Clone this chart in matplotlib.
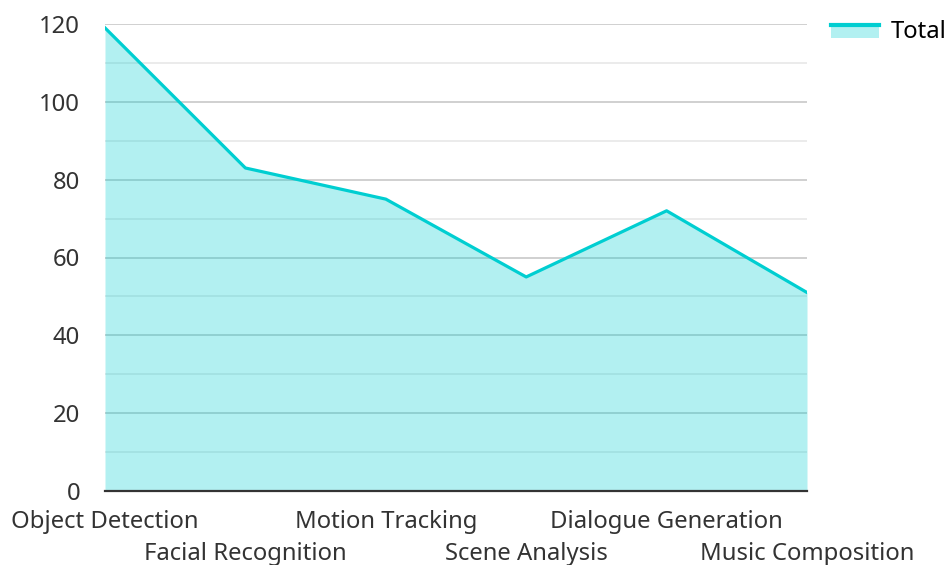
import numpy as np
import matplotlib.pyplot as plt
from matplotlib.patches import Rectangle
from matplotlib.lines import Line2D

plt.rcParams['font.family'] = ['Noto Sans', 'DejaVu Sans']

categories = ['Object Detection', 'Facial Recognition', 'Motion Tracking',
              'Scene Analysis', 'Dialogue Generation', 'Music Composition']
totals = [119, 83, 75, 55, 72, 51]
y_ticks = [0, 20, 40, 60, 80, 100, 120]

color = '#00ced1'


class AreaHandler:
    # legend key: pale band with the line along its top
    def legend_artist(self, legend, orig_handle, fontsize, handlebox):
        x0, y0 = handlebox.xdescent, handlebox.ydescent
        w, h = handlebox.width, handlebox.height
        band = Rectangle((x0, y0), w, h * 0.75, facecolor=color, alpha=0.3,
                         linewidth=0, transform=handlebox.get_transform())
        top = Line2D([x0, x0 + w], [y0 + h * 0.8, y0 + h * 0.8], color=color,
                     linewidth=3, transform=handlebox.get_transform())
        handlebox.add_artist(band)
        handlebox.add_artist(top)
        return band


fig = plt.figure(figsize=(9.46, 5.65), dpi=100)
ax = fig.add_axes([105 / 946, 74 / 565, 702 / 946, 467 / 565])

x = np.arange(len(categories))
fill = ax.fill_between(x, totals, 0, color=color, alpha=0.3, linewidth=0, zorder=2)
line, = ax.plot(x, totals, color=color, linewidth=2.3, zorder=3)

ax.set_xlim(0, len(categories) - 1)
ax.set_ylim(0, 120)
ax.set_yticks(y_ticks)
ax.set_yticks(np.arange(10, 120, 20), minor=True)
ax.grid(axis='y', which='major', color='#c8c8c8', linewidth=1.2, zorder=1)
ax.grid(axis='y', which='minor', color='#e8e8e8', linewidth=1.2, zorder=1)
ax.set_axisbelow(True)

ax.set_xticks(x)
ax.set_xticklabels(categories)
ax.tick_params(axis='both', which='both', length=0, labelsize=17.2, colors='#333333')
ax.tick_params(axis='y', pad=18)

# staggered category labels: every other one drops to a second row
for i, tick in enumerate(ax.xaxis.get_major_ticks()):
    tick.set_pad(13.5 if i % 2 == 0 else 36.5)

for s in ['top', 'right', 'left']:
    ax.spines[s].set_visible(False)
ax.spines['bottom'].set_color('#333333')
ax.spines['bottom'].set_linewidth(1.6)
ax.spines['bottom'].set_zorder(4)

ax.legend([fill], ['Total'], handler_map={type(fill): AreaHandler()},
          loc='upper left', bbox_to_anchor=(831 / 946, 1 - 20 / 565),
          bbox_transform=fig.transFigure, frameon=False, borderpad=0,
          borderaxespad=0, fontsize=17.2, handlelength=2.0, handletextpad=0.5)

fig.savefig('out.png', dpi=100)
